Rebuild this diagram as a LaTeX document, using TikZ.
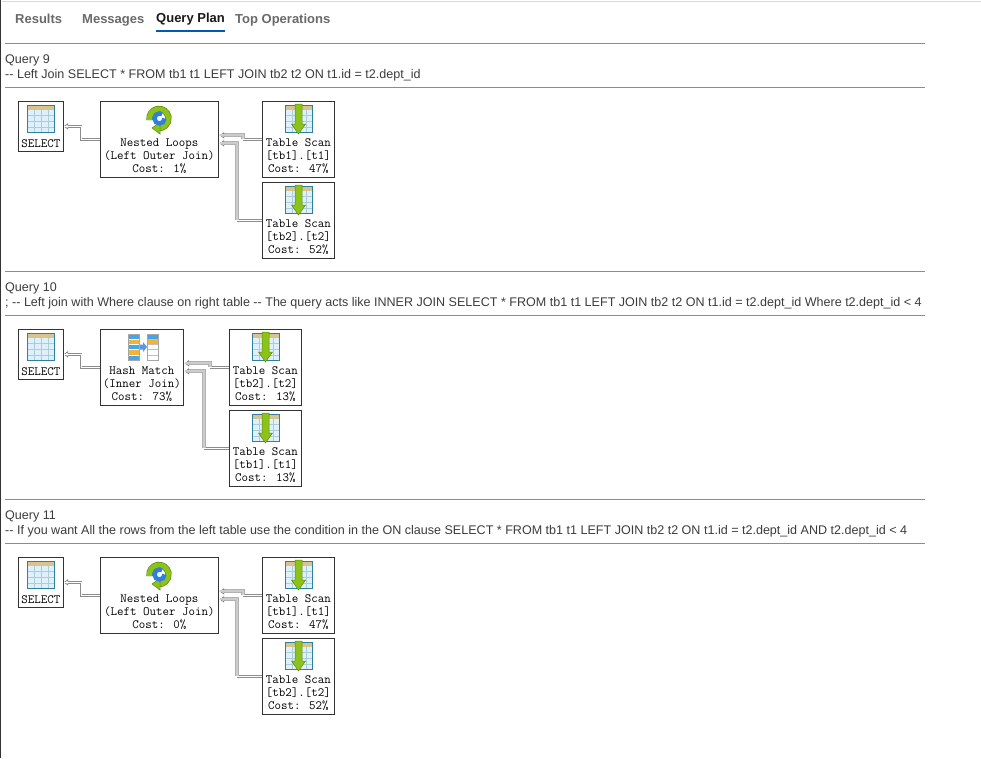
\documentclass[tikz,border=0pt]{standalone}
\usepackage{fontspec}
\usepackage{tikz}
\usetikzlibrary{calc,positioning,arrows.meta}
\newfontfamily\uifont{Liberation Sans}
\definecolor{tealline}{HTML}{2F7F9F}
\definecolor{cellblue}{HTML}{DDF0FB}
\definecolor{headtan}{HTML}{D8C48C}
\definecolor{leafgreen}{HTML}{8CC21A}
\definecolor{leafdark}{HTML}{5F8A10}
\definecolor{swirlblue}{HTML}{2F7FE0}
\definecolor{rowblue}{HTML}{45A5E8}
\definecolor{roworange}{HTML}{F5B335}
\definecolor{tabgray}{HTML}{6A6A6A}
\definecolor{texthead}{HTML}{3C3C3C}
\tikzset{
	planbox/.style={draw=black!80, line width=0.7pt, fill=white, inner sep=0pt, anchor=north west},
	plantext/.style={font=\ttfamily\fontsize{12.6}{13}\selectfont, text=black, align=center, inner sep=0pt, anchor=south},
	tabtext/.style={font=\uifont\bfseries\fontsize{13}{15}\selectfont, text=tabgray, inner sep=0pt, anchor=base west},
	headtext/.style={font=\uifont\fontsize{12.55}{15}\selectfont, text=texthead, inner sep=0pt, anchor=base west},
	rulegray/.style={draw=black!45, line width=0.8pt},
	thinlink/.style={draw=black!45, line width=2.6pt, line join=miter, postaction={draw=white, line width=1pt, -}},
	thicklink/.style={draw=black!30, line width=4pt, line join=miter, postaction={draw=black!20, line width=1.8pt, -}},
	linktip/.style={-{Triangle[open, length=4.5pt, width=6.5pt, line width=0.7pt, fill=white, color=black!50]}},
	tblicon/.pic={
		\draw[fill=cellblue, draw=tealline, line width=0.8pt] (0,0) rectangle (27,27);
		\fill[headtan] (0.5,0.5) rectangle (26.5,4.5);
		\draw[tealline!40, line width=0.5pt] (7,4.5) -- (7,26.5) (14,4.5) -- (14,26.5) (21,4.5) -- (21,26.5)
			(0.5,10) -- (26.5,10) (0.5,16) -- (26.5,16) (0.5,22) -- (26.5,22);
	},
	scanicon/.pic={
		\pic at (0,0) {tblicon};
		\draw[fill=leafgreen, draw=leafdark, line width=0.5pt] (10,-1) -- (17,-1) -- (17,19) -- (20.5,19)
			-- (13.5,29) -- (6.5,19) -- (10,19) -- cycle;
	},
	loopicon/.pic={
		\draw[leafdark, line width=6.4pt] (3.64,15.15) arc (-190:90:9.5);
		\draw[leafgreen, line width=5pt] (3.64,15.15) arc (-190:90:9.5);
		\fill[leafgreen, draw=leafdark, line width=0.5pt] (14,17) -- (14,29) -- (6,23) -- cycle;
		\draw[swirlblue, line width=4.4pt] (18.5,13.5) arc (0:300:5);
		\fill[white] (13.5,13.5) circle (1.6);
	},
	hashicon/.pic={
		\foreach \yy/\cc in {0/rowblue,5.2/roworange,10.4/rowblue,15.6/roworange,20.8/rowblue}
			\fill[\cc] (0,\yy) rectangle (11,\yy+5.2);
		\foreach \yy/\cc in {0/rowblue,5.2/roworange,10.4/white,15.6/white,20.8/white}
			\fill[\cc] (19,\yy) rectangle (30,\yy+5.2);
		\draw[white, line width=0.5pt] (0,5.2) -- (11,5.2) (0,10.4) -- (11,10.4) (0,15.6) -- (11,15.6) (0,20.8) -- (11,20.8);
		\draw[black!25, line width=0.5pt] (19,5.2) -- (30,5.2) (19,10.4) -- (30,10.4) (19,15.6) -- (30,15.6) (19,20.8) -- (30,20.8);
		\draw[black!35, line width=0.5pt] (0,0) rectangle (11,26) (19,0) rectangle (30,26);
		\fill[swirlblue!80] (12,10.5) -- (15,10.5) -- (15,8) -- (19,13) -- (15,18) -- (15,15.5) -- (12,15.5) -- cycle;
	}
}

\begin{document}
\begin{tikzpicture}[x=1pt, y=-1pt]
	\useasboundingbox (0,0) rectangle (981,758);
	\fill[white] (0,0) rectangle (981,758);
	
	%%%%% tabs %%%%%
	\draw[black!15, line width=1pt] (2,1) -- (981,1);
	\draw[black!80, line width=1.4pt] (0.7,0) -- (0.7,758);
	\node[tabtext] (results) at (15,23) {Results};
	\node[tabtext] (messages) at (82,23) {Messages};
	\node[tabtext, text=black!90] (queryplan) at (156,22.5) {Query Plan};
	\node[tabtext] (topops) at (235,23) {Top Operations};
	\draw[blue!50!cyan!70!black, line width=2pt] (156,31) -- (225,31);
	
	%%%%% query 9 %%%%%
	\draw[rulegray] (5,43) -- (925,43);
	\node[headtext] (qnine) at (5,63) {Query 9};
	\node[headtext] (qninesql) at (5,78) {-- Left Join SELECT * FROM tb1 t1 LEFT JOIN tb2 t2 ON t1.id = t2.dept\_id};
	\draw[rulegray] (5,87) -- (925,87);
	
	\node[planbox, minimum width=45pt, minimum height=50pt] (selA) at (18,101) {};
	\node[planbox, minimum width=118pt, minimum height=76pt] (loopA) at (100,101) {};
	\node[planbox, minimum width=72pt, minimum height=76pt] (scanAa) at (262,101) {};
	\node[planbox, minimum width=72pt, minimum height=76pt] (scanAb) at (262,182) {};
	\pic at (27,105) {tblicon};
	\pic at (146,105) {loopicon};
	\pic at (285,105) {scanicon};
	\pic at (285,186) {scanicon};
	\node[plantext, above=4pt of selA.south] (selAtxt) {SELECT};
	\node[plantext, above=4pt of loopA.south] (loopAtxt) {Nested Loops\\(Left Outer Join)\\Cost: 1\%};
	\node[plantext, above=4pt of scanAa.south] (scanAatxt) {Table Scan\\{[}tb1{]}.{[}t1{]}\\Cost: 47\%};
	\node[plantext, above=4pt of scanAb.south] (scanAbtxt) {Table Scan\\{[}tb2{]}.{[}t2{]}\\Cost: 52\%};
	\draw[thinlink, linktip] (loopA.west) -- ++(-19,0) |- (selA.east);
	\draw[thinlink] (scanAa.west) -- ++(-19,0) coordinate (bendAa);
	\draw[thicklink, linktip] (bendAa) |- ($(loopA.east)+(1,-4)$);
	\draw[thinlink] (scanAb.west) -- ++(-25,0) coordinate (bendAb);
	\draw[thicklink, linktip] (bendAb) |- ($(loopA.east)+(1,4)$);
	
	%%%%% query 10 %%%%%
	\draw[rulegray] (5,271) -- (925,271);
	\node[headtext] (qten) at (5,291) {Query 10};
	\node[headtext] (qtensql) at (5,306) {; -- Left join with Where clause on right table -- The query acts like INNER JOIN SELECT * FROM tb1 t1 LEFT JOIN tb2 t2 ON t1.id = t2.dept\_id Where t2.dept\_id < 4};
	\draw[rulegray] (5,315) -- (925,315);
	
	\node[planbox, minimum width=45pt, minimum height=50pt] (selB) at (18,329) {};
	\node[planbox, minimum width=83pt, minimum height=76pt] (hashB) at (100,329) {};
	\node[planbox, minimum width=72pt, minimum height=76pt] (scanBa) at (229,329) {};
	\node[planbox, minimum width=72pt, minimum height=76pt] (scanBb) at (229,410) {};
	\pic at (27,333) {tblicon};
	\pic at (128,334) {hashicon};
	\pic at (252,333) {scanicon};
	\pic at (252,414) {scanicon};
	\node[plantext, above=4pt of selB.south] (selBtxt) {SELECT};
	\node[plantext, above=4pt of hashB.south] (hashBtxt) {Hash Match\\(Inner Join)\\Cost: 73\%};
	\node[plantext, above=4pt of scanBa.south] (scanBatxt) {Table Scan\\{[}tb2{]}.{[}t2{]}\\Cost: 13\%};
	\node[plantext, above=4pt of scanBb.south] (scanBbtxt) {Table Scan\\{[}tb1{]}.{[}t1{]}\\Cost: 13\%};
	\draw[thinlink, linktip] (hashB.west) -- ++(-19,0) |- (selB.east);
	\draw[thinlink] (scanBa.west) -- ++(-19,0) coordinate (bendBa);
	\draw[thicklink, linktip] (bendBa) |- ($(hashB.east)+(1,-4)$);
	\draw[thinlink] (scanBb.west) -- ++(-25,0) coordinate (bendBb);
	\draw[thicklink, linktip] (bendBb) |- ($(hashB.east)+(1,4)$);
	
	%%%%% query 11 %%%%%
	\draw[rulegray] (5,499) -- (925,499);
	\node[headtext] (qelev) at (5,519) {Query 11};
	\node[headtext] (qelevsql) at (5,534) {-- If you want All the rows from the left table use the condition in the ON clause SELECT * FROM tb1 t1 LEFT JOIN tb2 t2 ON t1.id = t2.dept\_id AND t2.dept\_id < 4};
	\draw[rulegray] (5,543) -- (925,543);
	
	\node[planbox, minimum width=45pt, minimum height=50pt] (selC) at (18,557) {};
	\node[planbox, minimum width=118pt, minimum height=76pt] (loopC) at (100,557) {};
	\node[planbox, minimum width=72pt, minimum height=76pt] (scanCa) at (262,557) {};
	\node[planbox, minimum width=72pt, minimum height=76pt] (scanCb) at (262,638) {};
	\pic at (27,561) {tblicon};
	\pic at (146,561) {loopicon};
	\pic at (285,561) {scanicon};
	\pic at (285,642) {scanicon};
	\node[plantext, above=4pt of selC.south] (selCtxt) {SELECT};
	\node[plantext, above=4pt of loopC.south] (loopCtxt) {Nested Loops\\(Left Outer Join)\\Cost: 0\%};
	\node[plantext, above=4pt of scanCa.south] (scanCatxt) {Table Scan\\{[}tb1{]}.{[}t1{]}\\Cost: 47\%};
	\node[plantext, above=4pt of scanCb.south] (scanCbtxt) {Table Scan\\{[}tb2{]}.{[}t2{]}\\Cost: 52\%};
	\draw[thinlink, linktip] (loopC.west) -- ++(-19,0) |- (selC.east);
	\draw[thinlink] (scanCa.west) -- ++(-19,0) coordinate (bendCa);
	\draw[thicklink, linktip] (bendCa) |- ($(loopC.east)+(1,-4)$);
	\draw[thinlink] (scanCb.west) -- ++(-25,0) coordinate (bendCb);
	\draw[thicklink, linktip] (bendCb) |- ($(loopC.east)+(1,4)$);
\end{tikzpicture}
\end{document}
